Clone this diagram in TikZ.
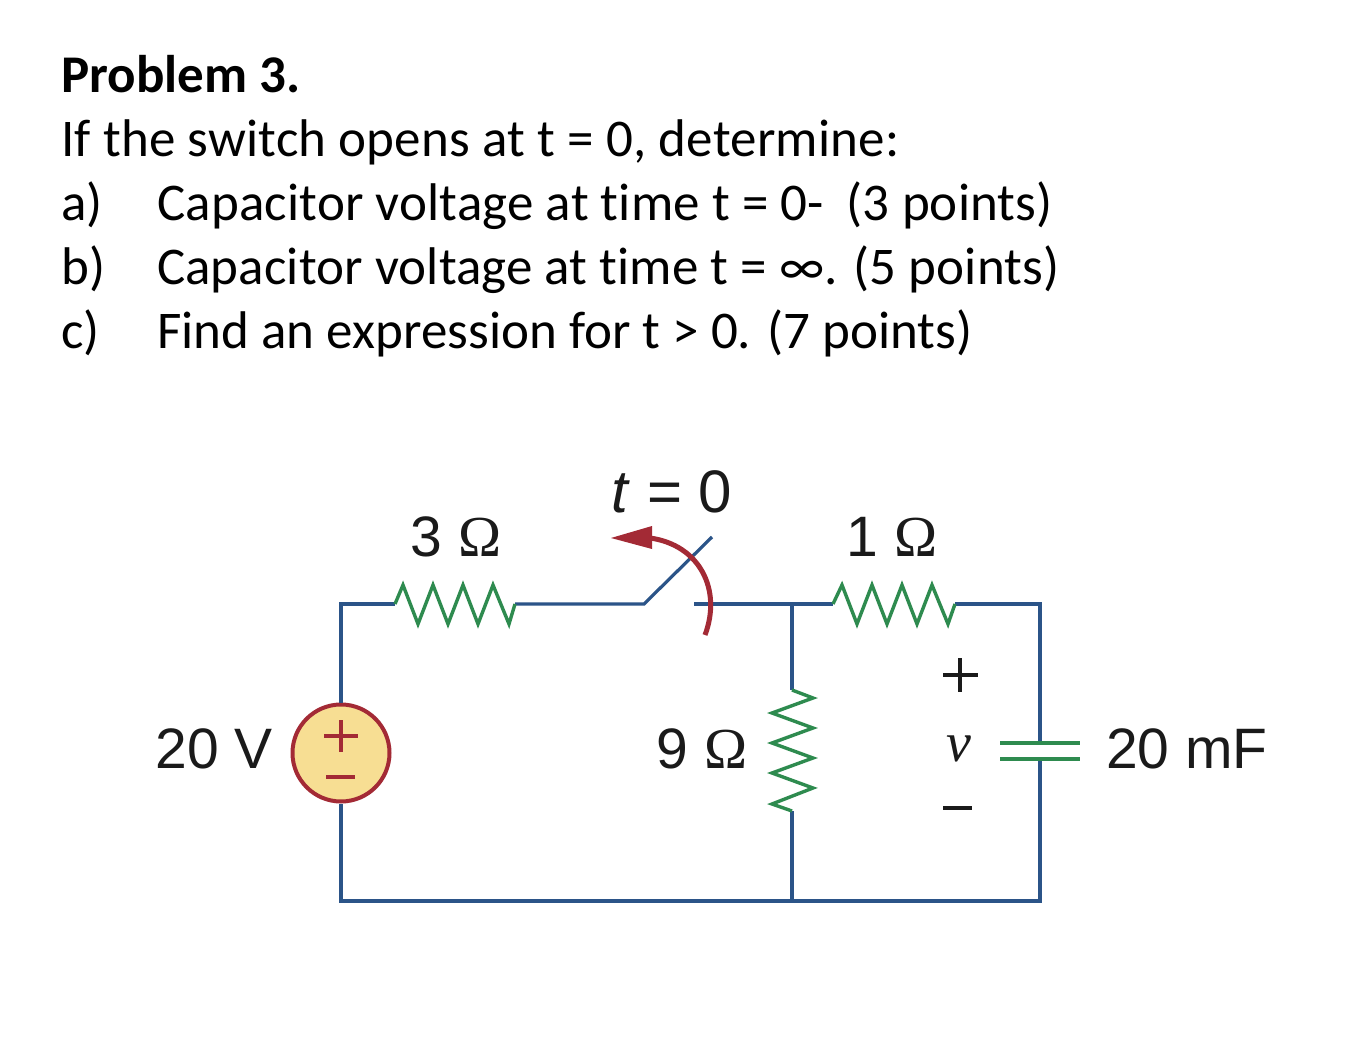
\documentclass[tikz,border=0pt]{standalone}
\usepackage{fontspec}
\setmainfont[Ligatures=CommonOff]{Carlito}
\newfontfamily\lab{Liberation Sans}
\newfontfamily\labs{Liberation Serif}
\definecolor{wire}{HTML}{2B5488}
\definecolor{res}{HTML}{2E8B4F}
\definecolor{swr}{HTML}{A32A35}
\definecolor{srcfill}{HTML}{F7DE93}
\definecolor{ink}{HTML}{1A1A1A}
\newcommand{\ohm}{{\labs\fontsize{58}{58}\selectfont Ω}}
\tikzset{
  wireline/.style={draw=wire,line width=3.2pt,line join=miter},
  resline/.style={draw=res,line width=3.4pt,line join=miter},
  redline/.style={draw=swr,line width=4pt},
  prob/.style={anchor=base west,inner sep=0pt,font=\fontsize{53}{53}\selectfont,text=black},
  circ/.style={anchor=base,inner sep=0pt,font=\lab\fontsize{57}{57}\selectfont,text=ink},
}
\begin{document}
\begin{tikzpicture}[x=1pt,y=-1pt]
\useasboundingbox (0,0) rectangle (1352,1056);
\fill[white] (0,0) rectangle (1352,1056);
% text
\node[prob,font=\bfseries\fontsize{53}{53}\selectfont] (t0) at (61,93) {Problem 3.};
\node[prob] (t1) at (61,157) {\addfontfeature{LetterSpace=0.4}If the switch opens at t = 0, determine:};
\node[prob] (t2a) at (61,221) {a)};
\node[prob] (t2) at (157,221) {\addfontfeature{LetterSpace=0.33}Capacitor voltage at time t = 0-\hspace{0.2em} (3 points)};
\node[prob] (t3a) at (61,285) {b)};
\node[prob] (t3) at (157,285) {\addfontfeature{LetterSpace=0.2}Capacitor voltage at time t = ∞. (5 points)};
\node[prob] (t4a) at (61,349) {c)};
\node[prob] (t4) at (157,349) {\addfontfeature{LetterSpace=0.1}Find an expression for t > 0. (7 points)};
% coordinates
\coordinate (tl) at (341,604);
\coordinate (bl) at (341,901);
\coordinate (tr) at (1040,604);
\coordinate (br) at (1040,901);
\coordinate (jt) at (792,604);
\coordinate (jb) at (792,901);
\coordinate (r1a) at (395,604);
\coordinate (r1b) at (515,604);
\coordinate (r2a) at (833,604);
\coordinate (r2b) at (955,604);
\coordinate (r3a) at (792,690);
\coordinate (r3b) at (792,811);
\coordinate (hub) at (644,604);
\coordinate (blade) at (712,537);
\coordinate (cont) at (694,604);
\coordinate (c1) at (1040,743);
\coordinate (c2) at (1040,759);
\node[circle,draw=swr,fill=srcfill,line width=4pt,minimum size=97pt,inner sep=0pt] (src) at (341,753) {};
% wires
\draw[wireline] (src.north) -- (tl) -- (r1a);
\draw[wireline] (r1b) -- (hub) -- (blade);
\draw[wireline] (cont) -- (r2a);
\draw[wireline] (r2b) -- (tr) -- (c1);
\draw[wireline] (c2) -- (br) -- (bl) -- (src.south);
\draw[wireline] (jt) -- (r3a);
\draw[wireline] (r3b) -- (jb);
% resistors
\draw[resline] (r1a) -- (403,585) -- (418,624) -- (433,585) -- (448,624) -- (463,585) -- (478,624) -- (493,585) -- (509,624) -- (r1b);
\draw[resline] (r2a) -- (842,585) -- (857,624) -- (872,585) -- (887,624) -- (902,585) -- (917,624) -- (932,585) -- (948,624) -- (r2b);
\draw[resline] (r3a) -- (813,698) -- (772,713) -- (813,728) -- (772,743) -- (813,758) -- (772,773) -- (813,788) -- (772,804) -- (r3b);
% capacitor
\draw[resline] (1000,743) -- (1080,743);
\draw[resline] (1000,759) -- (1080,759);
% source signs
\draw[redline] (324,736) -- (358,736);
\draw[redline] (341,720) -- (341,752);
\draw[redline] (326,777) -- (355,777);
% switch arrow
\draw[draw=swr,line width=5pt] (705,635) .. controls (722,590) and (700,545) .. (650,538);
\fill[swr] (611,538) -- (652,526) -- (652,549) -- cycle;
% labels
\node[circ] (l3) at (456,556) {3 \ohm};
\node[circ,font=\lab\fontsize{60}{60}\selectfont] (lt) at (672,512) {\textit{t} = 0};
\node[circ] (l1) at (892,556) {1 \ohm};
\node[circ] (l9) at (702,768) {9 \ohm};
\node[circ] (l20) at (214,768) {20 V};
\node[circ] (lc) at (1187,768) {20 mF};
\node[anchor=base,inner sep=0pt,font=\labs\itshape\fontsize{56}{56}\selectfont,text=ink] (lv) at (959,761) {v};
\draw[draw=ink,line width=3.6pt] (943,675) -- (978,675);
\draw[draw=ink,line width=3.6pt] (960,658) -- (960,692);
\draw[draw=ink,line width=3.6pt] (943,808) -- (972,808);
\end{tikzpicture}
\end{document}
